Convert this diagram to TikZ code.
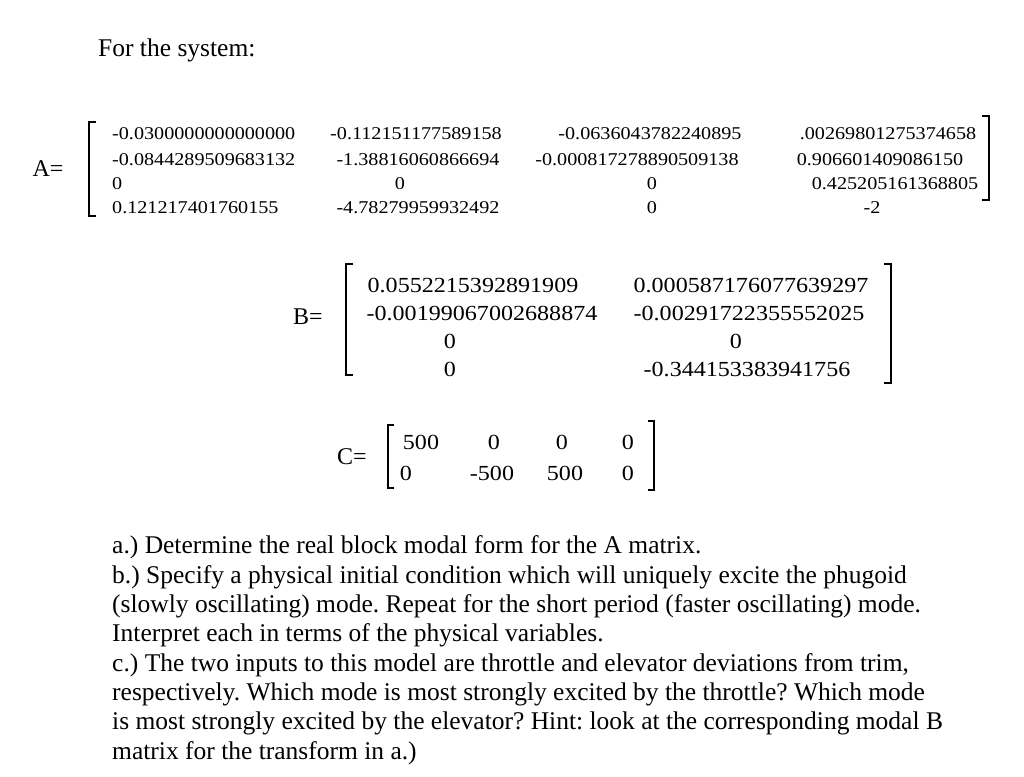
\documentclass[tikz,border=0pt]{standalone}
\usepackage{fontspec}
\setmainfont{Liberation Serif}
\usepackage{graphicx}
\newcommand\sxa[1]{\scalebox{1.12}[1]{#1}}
\tikzset{
  ea/.style={inner sep=0pt,font=\fontsize{18}{18}\selectfont},
  eb/.style={inner sep=0pt,font=\fontsize{21.5}{21.5}\selectfont},
  lab/.style={inner sep=0pt,font=\fontsize{24}{24}\selectfont},
  tx/.style={inner sep=0pt,anchor=west,font=\fontsize{25.5}{25.5}\selectfont\frenchspacing},
  brk/.style={line width=2.6pt}
}
\begin{document}
\begin{tikzpicture}[x=1pt,y=-1pt]
\useasboundingbox (0,0) rectangle (1024,776);
\node[tx] (title) at (98,50) {For the system:};
% A
\node[lab] (Alab) at (48,169) {A=};
\draw[brk] (96,122) -- (89,122) -- (89,216) -- (96,216);
\draw[brk] (982,116) -- (989,116) -- (989,200) -- (982,200);
\node[ea,anchor=west] (a11) at (112,134) {\sxa{-0.0300000000000000}};
\node[ea] (a12) at (416,134) {\sxa{-0.112151177589158}};
\node[ea] (a13) at (650,134) {\sxa{-0.0636043782240895}};
\node[ea] (a14) at (888,134) {\sxa{.00269801275374658}};
\node[ea,anchor=west] (a21) at (112,160) {\sxa{-0.0844289509683132}};
\node[ea] (a22) at (418,160) {\sxa{-1.38816060866694}};
\node[ea] (a23) at (637,160) {\sxa{-0.000817278890509138}};
\node[ea] (a24) at (880,160) {\sxa{0.906601409086150}};
\node[ea,anchor=west] (a31) at (112,184) {\sxa{0}};
\node[ea] (a32) at (400,184) {\sxa{0}};
\node[ea] (a33) at (652,184) {\sxa{0}};
\node[ea] (a34) at (895,184) {\sxa{0.425205161368805}};
\node[ea,anchor=west] (a41) at (112,208) {\sxa{0.121217401760155}};
\node[ea] (a42) at (418,208) {\sxa{-4.78279959932492}};
\node[ea] (a43) at (652,208) {\sxa{0}};
\node[ea] (a44) at (872,208) {\sxa{-2}};
% B
\node[lab] (Blab) at (308,317) {B=};
\draw[brk] (353,264) -- (346,264) -- (346,375) -- (353,375);
\draw[brk] (884,264) -- (891,264) -- (891,383) -- (884,383);
\node[eb] (b11) at (473,285) {\sxa{0.0552215392891909}};
\node[eb] (b12) at (751,285) {\sxa{0.000587176077639297}};
\node[eb] (b21) at (482,313) {\sxa{-0.00199067002688874}};
\node[eb] (b22) at (749,313) {\sxa{-0.00291722355552025}};
\node[eb] (b31) at (450,341) {\sxa{0}};
\node[eb] (b32) at (736,341) {\sxa{0}};
\node[eb] (b41) at (450,369) {\sxa{0}};
\node[eb] (b42) at (747,369) {\sxa{-0.344153383941756}};
% C
\node[lab] (Clab) at (352,457) {C=};
\draw[brk] (394,425) -- (388,425) -- (388,488) -- (394,488);
\draw[brk] (648,421) -- (654,421) -- (654,490) -- (648,490);
\node[eb] (c11) at (421,442) {\sxa{500}};
\node[eb] (c12) at (494,442) {\sxa{0}};
\node[eb] (c13) at (562,442) {\sxa{0}};
\node[eb] (c14) at (628,442) {\sxa{0}};
\node[eb] (c21) at (406,473) {\sxa{0}};
\node[eb] (c22) at (492,473) {\sxa{-500}};
\node[eb] (c23) at (565,473) {\sxa{500}};
\node[eb] (c24) at (628,473) {\sxa{0}};
% questions
\node[tx] (q1) at (112,547) {a.) Determine the real block modal form for the A matrix.};
\node[tx] (q2) at (112,577) {b.) Specify a physical initial condition which will uniquely excite the phugoid};
\node[tx] (q3) at (112,606) {(slowly oscillating) mode. Repeat for the short period (faster oscillating) mode.};
\node[tx] (q4) at (112,635) {Interpret each in terms of the physical variables.};
\node[tx] (q5) at (112,665) {c.) The two inputs to this model are throttle and elevator deviations from trim,};
\node[tx] (q6) at (112,694) {respectively. Which mode is most strongly excited by the throttle? Which mode};
\node[tx] (q7) at (112,723) {is most strongly excited by the elevator? Hint: look at the corresponding modal B};
\node[tx] (q8) at (112,753) {matrix for the transform in a.)};
\end{tikzpicture}
\end{document}
